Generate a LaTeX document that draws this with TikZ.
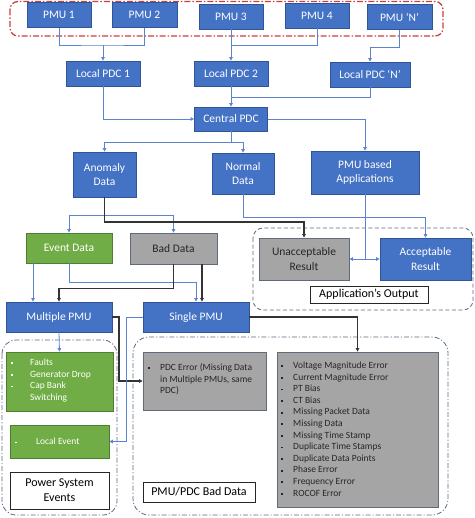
\documentclass[tikz,border=0pt]{standalone}
\usepackage{fontspec}
\setmainfont{Carlito}
\usetikzlibrary{arrows.meta}
\definecolor{bl}{HTML}{4472C4}
\definecolor{bld}{HTML}{2F5597}
\definecolor{blc}{HTML}{5B83CF}
\definecolor{gy}{HTML}{A5A5A5}
\definecolor{gyd}{HTML}{5F6B7A}
\definecolor{gr}{HTML}{70AD47}
\definecolor{grd}{HTML}{4E7F31}
\definecolor{rd}{HTML}{C9403F}
\definecolor{dsh}{HTML}{5A6A80}
\newcommand\sqbul{\raisebox{0.3ex}{\rule{1.8pt}{1.8pt}}}
\newcommand\bitem[2]{\makebox[#1][l]{\sqbul}#2}
\begin{document}
\begin{tikzpicture}[x=1pt,y=-1pt,
  box/.style={draw, line width=0.8pt, inner sep=0pt, align=center, font=\fontsize{11.5}{14.5}\selectfont},
  bbox/.style={box, fill=bl, draw=bld, text=white},
  gbox/.style={box, fill=gy, draw=gyd, text=black!85},
  grbox/.style={box, fill=gr, draw=grd, text=white},
  wbox/.style={box, fill=white, draw=black!85, font=\fontsize{12}{15}\selectfont},
  conn/.style={draw=blc, line width=0.8pt},
  blk/.style={draw=black!80, line width=1.1pt},
  arr/.style={-{Triangle[length=3.5pt,width=3.5pt]}},
  lst/.style={inner sep=0pt, align=left, font=\fontsize{9.5}{11.6}\selectfont},
  grp/.style={draw=dsh, line width=0.8pt, rounded corners=10pt},
]
\useasboundingbox (0,0) rectangle (474,518);
% group frames
\draw[draw=rd, line width=1.3pt, rounded corners=8pt, dash pattern=on 6pt off 2pt on 1.5pt off 2pt] (10,1.5) rectangle (443,36);
\draw[grp, dash pattern=on 4pt off 2.5pt] (253,228) rectangle (473,310);
\draw[grp, rounded corners=14pt, dash pattern=on 5pt off 2pt on 1.2pt off 2pt] (2,340) rectangle (117,515);
\draw[grp, rounded corners=16pt, dash pattern=on 5pt off 2pt on 1.2pt off 2pt] (133,337) rectangle (448,515);

% PMUs
\node[bbox, minimum width=64pt, minimum height=25pt] (p1) at (59,15) {PMU 1};
\node[bbox, minimum width=65pt, minimum height=25pt] (p2) at (144.5,15) {PMU 2};
\node[bbox, minimum width=64pt, minimum height=25pt] (p3) at (231,16.5) {PMU 3};
\node[bbox, minimum width=64pt, minimum height=25pt] (p4) at (317,15.5) {PMU 4};
\node[bbox, minimum width=65pt, minimum height=25pt] (pn) at (399.5,17) {PMU ‘N’};
% Local PDCs
\node[bbox, minimum width=74pt, minimum height=25pt] (l1) at (103,73.5) {Local PDC 1};
\node[bbox, minimum width=74pt, minimum height=25pt] (l2) at (231,73.5) {Local PDC 2};
\node[bbox, minimum width=80pt, minimum height=25pt] (ln) at (370,74.5) {Local PDC ‘N’};
\node[bbox, minimum width=73pt, minimum height=24pt] (cp) at (231,119) {Central PDC};
% second level
\node[bbox, minimum width=63pt, minimum height=45pt] (an) at (104.5,174.5) {Anomaly\\Data};
\node[bbox, minimum width=62pt, minimum height=41pt] (nd) at (243,173.5) {Normal\\Data};
\node[bbox, minimum width=108pt, minimum height=43pt] (ap) at (365,172.5) {PMU based\\Applications};
\node[grbox, minimum width=86pt, minimum height=30pt] (ev) at (69,248) {Event Data};
\node[gbox, minimum width=87pt, minimum height=31pt] (bd) at (173.5,248.5) {Bad Data};
\node[gbox, minimum width=90pt, minimum height=42pt] (un) at (304,259) {Unacceptable\\Result};
\node[bbox, minimum width=91pt, minimum height=42pt] (ac) at (425.5,259) {Acceptable\\Result};
\node[wbox, minimum width=118pt, minimum height=17pt] (ao) at (369,294.5) {Application’s Output};
\node[bbox, minimum width=106pt, minimum height=30pt] (mp) at (59,317) {Multiple PMU};
\node[bbox, minimum width=106pt, minimum height=30pt] (sp) at (196,317) {Single PMU};
% bottom boxes
\node[grbox, minimum width=107pt, minimum height=59pt] (g1) at (59.5,381.5) {};
\node[lst, text=white, anchor=west] at (11,380.5) {\bitem{19pt}{Faults}\\\bitem{19pt}{Generator Drop}\\\bitem{19pt}{Cap Bank}\\\hspace*{19pt}Switching};
\node[grbox, minimum width=99pt, minimum height=33pt] (le) at (59.5,441.5) {};
\node[lst, text=white, anchor=west] at (15,441.5) {\bitem{21pt}{Local Event}};
\node[wbox, minimum width=99pt, minimum height=37pt] (ps) at (59.5,490.5) {Power System\\Events};
\node[gbox, minimum width=123pt, minimum height=58pt] (pe) at (204.5,381) {};
\node[lst, text=black!85, anchor=north west] at (148,363.5) {\bitem{12pt}{PDC Error (Missing Data}\\\hspace*{12pt}in Multiple PMUs, same\\\hspace*{12pt}PDC)};
\node[gbox, minimum width=161pt, minimum height=155pt] (bl) at (357.5,429.5) {};
\node[lst, text=black!85, anchor=west] at (281,429) {\bitem{12pt}{Voltage Magnitude Error}\\\bitem{12pt}{Current Magnitude Error}\\\bitem{12pt}{PT Bias}\\\bitem{12pt}{CT Bias}\\\bitem{12pt}{Missing Packet Data}\\\bitem{12pt}{Missing Data}\\\bitem{12pt}{Missing Time Stamp}\\\bitem{12pt}{Duplicate Time Stamps}\\\bitem{12pt}{Duplicate Data Points}\\\bitem{12pt}{Phase Error}\\\bitem{12pt}{Frequency Error}\\\bitem{12pt}{ROCOF Error}};
\node[wbox, minimum width=112pt, minimum height=20pt] (pb) at (199,492) {PMU/PDC Bad Data};

% connectors
\coordinate (j1) at (103,45);
\coordinate (j2) at (231,45);
\coordinate (j3) at (370,47);
\coordinate (j4) at (231,97);
\coordinate (c1) at (231,142);
\coordinate (a1) at (104.5,222);
\coordinate (a2) at (104.5,215);
\coordinate (n1) at (243,217);
\coordinate (ap1) at (365,259);
\coordinate (m1) at (119,317);
\coordinate (s1) at (126,317);

\draw[conn] (p1.south) |- (j1) -| (p2.south);
\draw[conn, arr] (j1) -- (l1.north);
\draw[conn, arr] (p3.south) -- (l2.north);
\draw[conn] (p4.south) |- (j2);
\draw[conn, arr] (pn.south) |- (j3) -- (ln.north);
\draw[conn, arr] (l1.south) |- (cp.west);
\draw[conn, arr] (l2.south) -- (cp.north);
\draw[conn] (ln.south) |- (j4);
\draw[conn, arr] (cp.east) -| (ap.north);
\draw[conn] (cp.south) -- (c1);
\draw[conn, arr] (c1) -| (an.north);
\draw[conn, arr] (c1) -| (nd.north);
\draw[conn, arr] (a2) -| (ev.north);
\draw[conn, arr] (a2) -| (bd.north);
\draw[blk, arr] (an.south) -- (a1) -| (un.north);
\draw[conn, arr] (nd.south) |- (n1) -| (ac.north);
\draw[conn] (ap.south) -- (ap1);
\draw[conn, arr] (ap1) -- (un.east);
\draw[conn, arr] (ap1) -- (ac.west);
\draw[conn, arr] ([xshift=-36pt]ev.south) -- ([xshift=-26pt]mp.north);
\draw[conn, arr] (ev.south) |- ++(0,19) -| (sp.north);
\draw[blk, arr] (bd.south) |- ++(0,24) -| (mp.north);
\draw[blk, arr] ([xshift=28.5pt]bd.south) -- ([xshift=6pt]sp.north);
\draw[blk, arr] (mp.east) -- (m1) |- (pe.west);
\draw[conn, arr] (sp.west) -- (s1) |- (le.east);
\draw[blk, arr] (sp.east) -| (bl.north);
\draw[conn, arr] (mp.south) -- (g1.north);
\end{tikzpicture}
\end{document}
